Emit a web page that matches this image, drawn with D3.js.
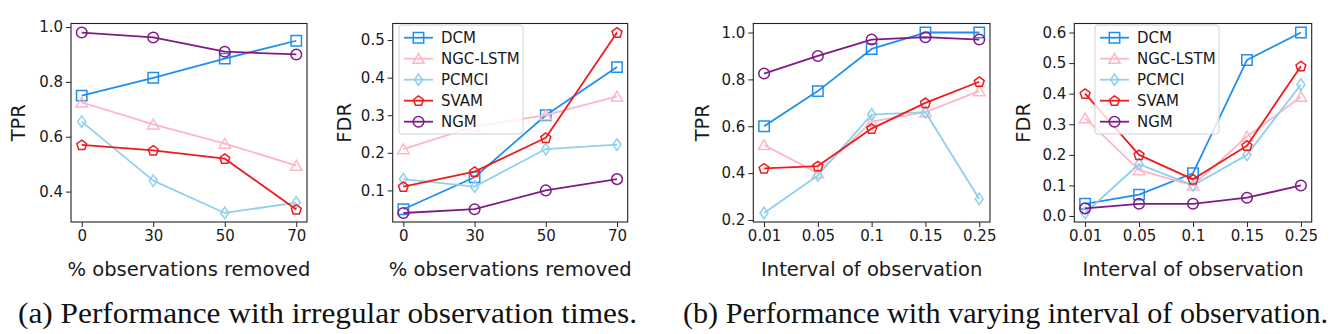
<!DOCTYPE html>
<html>
<head>
<meta charset="utf-8">
<script src="https://cdn.jsdelivr.net/npm/d3@7"></script>
<style>
  html, body { margin: 0; padding: 0; background: #fff; }
  svg { display: block; }
  text { font-family: "DejaVu Sans", sans-serif; fill: #1a1a1a; }
  .cap { font-family: "Liberation Serif", "Times New Roman", serif; fill: #111; }
</style>
</head>
<body>
<svg id="chart" width="1335" height="334"></svg>
<script>
// ---------------- data ----------------
const methods = ["DCM", "NGC-LSTM", "PCMCI", "SVAM", "NGM"];
const colors = ["#1e8ff0", "#ffb6c4", "#8fd0ec", "#ee1c1c", "#7f1a86"];
const shapes = ["square", "triangle", "diamond", "pentagon", "circle"];

const removedLabels = ["0", "30", "50", "70"];
const intervalLabels = ["0.01", "0.05", "0.1", "0.15", "0.25"];

// rows in order of `methods`
const tprRemoved = [
  [0.75, 0.815, 0.885, 0.95],
  [0.725, 0.645, 0.575, 0.495],
  [0.655, 0.44, 0.322, 0.36],
  [0.57, 0.55, 0.52, 0.335],
  [0.98, 0.962, 0.91, 0.90]
];
const fdrRemoved = [
  [0.05, 0.135, 0.30, 0.428],
  [0.21, 0.27, 0.30, 0.35],
  [0.13, 0.11, 0.21, 0.222],
  [0.11, 0.15, 0.24, 0.52],
  [0.04, 0.05, 0.10, 0.13]
];
const tprInterval = [
  [0.60, 0.75, 0.93, 1.0, 1.0],
  [0.52, 0.40, 0.62, 0.66, 0.75],
  [0.23, 0.39, 0.65, 0.66, 0.29],
  [0.42, 0.43, 0.59, 0.70, 0.79],
  [0.825, 0.90, 0.97, 0.98, 0.97]
];
const fdrInterval = [
  [0.04, 0.07, 0.14, 0.51, 0.60],
  [0.32, 0.15, 0.10, 0.26, 0.39],
  [0.01, 0.17, 0.10, 0.20, 0.43],
  [0.40, 0.20, 0.12, 0.23, 0.49],
  [0.025, 0.04, 0.04, 0.06, 0.10]
];

const ticksTprA = [0.4, 0.6, 0.8, 1.0];
const ticksFdrA = [0.1, 0.2, 0.3, 0.4, 0.5];
const ticksTprB = [0.2, 0.4, 0.6, 0.8, 1.0];
const ticksFdrB = [0.0, 0.1, 0.2, 0.3, 0.4, 0.5, 0.6];

const xLabelA = "% observations removed";
const xLabelB = "Interval of observation";
const captionA = "(a) Performance with irregular observation times.";
const captionB = "(b) Performance with varying interval of observation.";

// ---------------- drawing ----------------
const svg = d3.select("#chart");

function markerPath(shape) {
  let pts;
  switch (shape) {
    case "square": return "M-5.2,-5.2H5.2V5.2H-5.2Z";
    case "circle": return d3.symbol(d3.symbolCircle, Math.PI * 5.3 * 5.3)();
    case "triangle": pts = [[0, -5.2], [-5.7, 4.6], [5.7, 4.6]]; break;
    case "diamond": pts = [[0, -5.8], [4, 0], [0, 5.8], [-4, 0]]; break;
    case "pentagon":
      pts = d3.range(5).map(k => {
        const a = -Math.PI / 2 + k * 2 * Math.PI / 5;
        return [5.2 * Math.cos(a), 5.2 * Math.sin(a) + 0.4];
      });
      break;
  }
  return "M" + pts.map(p => p.join(",")).join("L") + "Z";
}

function drawPanel(cfg) {
  const { left, right, top, bottom, xLabels, series, yTicks, yLabel, xLabel, legend, ylabelX } = cfg;
  const n = xLabels.length;
  const pad = 0.05 * (n - 1);
  const x = d3.scaleLinear().domain([-pad, n - 1 + pad]).range([left, right]);
  const all = series.flat();
  const lo = d3.min(all), hi = d3.max(all), m = 0.05 * (hi - lo);
  const y = d3.scaleLinear().domain([lo - m, hi + m]).range([bottom, top]);

  const g = svg.append("g");

  // lines & markers
  const line = d3.line().x((d, i) => x(i)).y(d => y(d));
  series.forEach((vals, si) => {
    const sg = g.append("g");
    sg.append("path").datum(vals)
      .attr("d", line)
      .attr("fill", "none")
      .attr("stroke", colors[si])
      .attr("stroke-width", 1.8)
      .attr("stroke-linejoin", "round");
    sg.selectAll("path.mk").data(vals).enter().append("path")
      .attr("class", "mk")
      .attr("d", markerPath(shapes[si]))
      .attr("transform", (d, i) => `translate(${x(i)},${y(d)})`)
      .attr("fill", "none")
      .attr("stroke", colors[si])
      .attr("stroke-width", 1.5);
  });

  // axes
  const xAxis = d3.axisBottom(x).tickValues(d3.range(n))
    .tickFormat(i => xLabels[i]).tickSize(5).tickPadding(3);
  const gx = g.append("g").attr("transform", `translate(0,${bottom})`).call(xAxis);
  const yAxis = d3.axisLeft(y).tickValues(yTicks)
    .tickFormat(d3.format(".1f")).tickSize(5).tickPadding(3);
  const gy = g.append("g").attr("transform", `translate(${left},0)`).call(yAxis);
  [gx, gy].forEach(a => {
    a.select(".domain").remove();
    a.selectAll("line").attr("stroke", "#222").attr("stroke-width", 1);
    a.selectAll("text").attr("font-size", 15).attr("font-family", "DejaVu Sans").attr("fill", "#1a1a1a");
  });

  // frame
  g.append("rect")
    .attr("x", left).attr("y", top)
    .attr("width", right - left).attr("height", bottom - top)
    .attr("fill", "none").attr("stroke", "#222").attr("stroke-width", 1.1);

  // labels
  g.append("text")
    .attr("x", (left + right) / 2).attr("y", 276)
    .attr("text-anchor", "middle").attr("font-size", 19.5)
    .text(xLabel);
  g.append("text")
    .attr("transform", `translate(${ylabelX},${(top + bottom) / 2}) rotate(-90)`)
    .attr("text-anchor", "middle").attr("dy", "0.35em").attr("font-size", 19.5)
    .text(yLabel);

  // legend
  if (legend) {
    const lg = g.append("g").attr("transform", `translate(${legend.x},${legend.y})`);
    lg.append("rect")
      .attr("width", 124).attr("height", 109).attr("rx", 3)
      .attr("fill", "#fff").attr("fill-opacity", 0.8)
      .attr("stroke", "#d0d0d0").attr("stroke-width", 1);
    methods.forEach((name, si) => {
      const yy = 12.7 + si * 21;
      lg.append("line").attr("x1", 5).attr("x2", 34).attr("y1", yy).attr("y2", yy)
        .attr("stroke", colors[si]).attr("stroke-width", 1.8);
      lg.append("path").attr("d", markerPath(shapes[si]))
        .attr("transform", `translate(19.5,${yy})`)
        .attr("fill", "none").attr("stroke", colors[si]).attr("stroke-width", 1.5);
      lg.append("text").attr("x", 42).attr("y", yy).attr("dy", "0.36em")
        .attr("font-size", 15).text(name);
    });
  }
}

drawPanel({ left: 71, right: 307, top: 23.5, bottom: 222, xLabels: removedLabels,
  series: tprRemoved, yTicks: ticksTprA, yLabel: "TPR", xLabel: xLabelA, ylabelX: 18 });
drawPanel({ left: 392.7, right: 627.7, top: 23.5, bottom: 222, xLabels: removedLabels,
  series: fdrRemoved, yTicks: ticksFdrA, yLabel: "FDR", xLabel: xLabelA, ylabelX: 344,
  legend: { x: 399, y: 25 } });
drawPanel({ left: 753.3, right: 990, top: 23.5, bottom: 222, xLabels: intervalLabels,
  series: tprInterval, yTicks: ticksTprB, yLabel: "TPR", xLabel: xLabelB, ylabelX: 702 });
drawPanel({ left: 1074.3, right: 1311.7, top: 23.5, bottom: 222, xLabels: intervalLabels,
  series: fdrInterval, yTicks: ticksFdrB, yLabel: "FDR", xLabel: xLabelB, ylabelX: 1023,
  legend: { x: 1095, y: 25 } });

// captions
svg.append("text").attr("class", "cap")
  .attr("x", 18).attr("y", 323).attr("font-size", 29)
  .attr("textLength", 619).attr("lengthAdjust", "spacingAndGlyphs")
  .text(captionA);
svg.append("text").attr("class", "cap")
  .attr("x", 683).attr("y", 323).attr("font-size", 29)
  .attr("textLength", 645).attr("lengthAdjust", "spacingAndGlyphs")
  .text(captionB);
</script>
</body>
</html>
